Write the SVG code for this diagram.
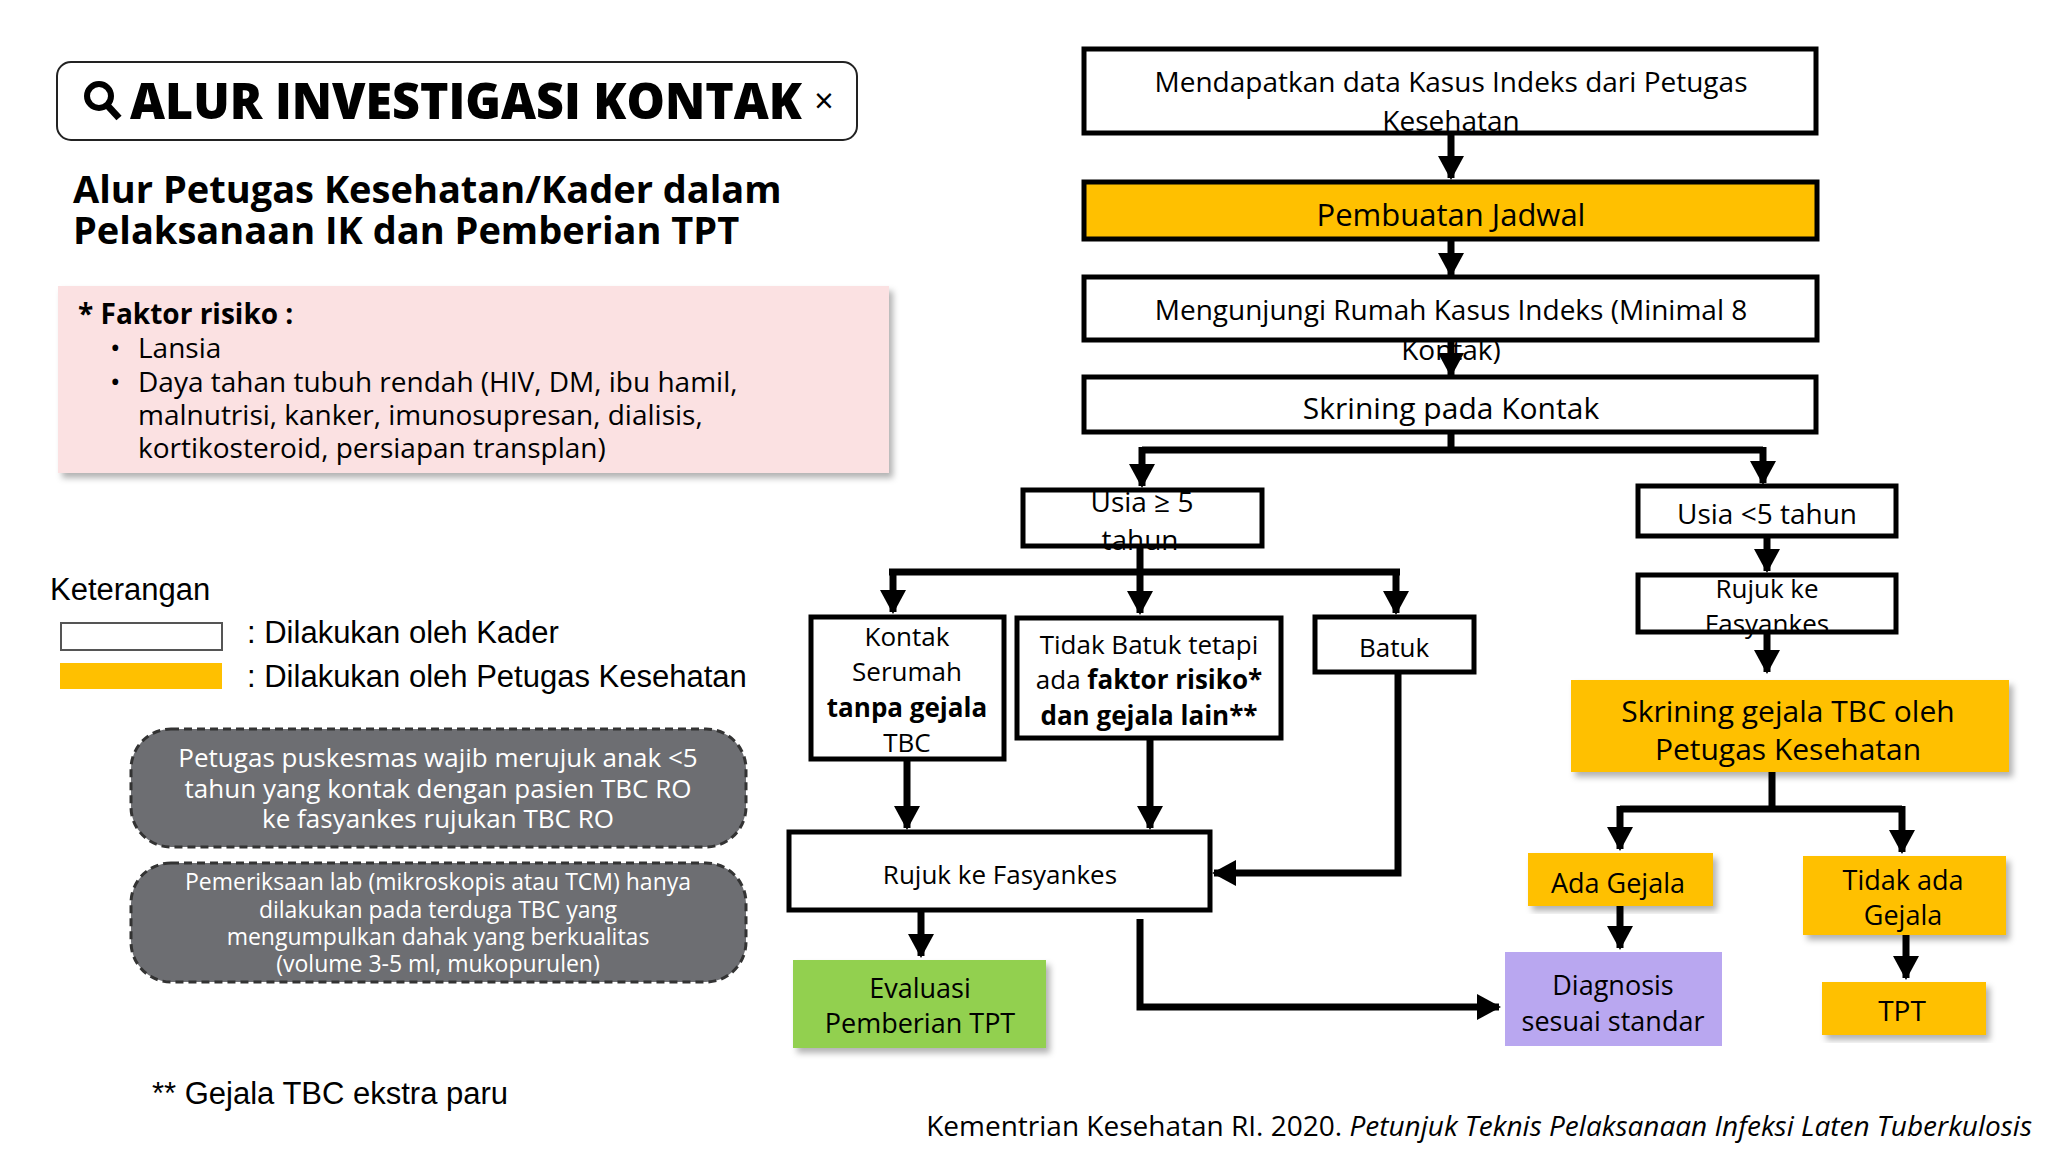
<svg xmlns="http://www.w3.org/2000/svg" width="2048" height="1152" viewBox="0 0 2048 1152">
<defs>
<marker id="ah" markerUnits="userSpaceOnUse" markerWidth="26" markerHeight="26" refX="22" refY="13" orient="auto"><path d="M0,0 L24,13 L0,26 Z" fill="#000"/></marker>
<filter id="sh" x="-5%" y="-5%" width="115%" height="120%"><feDropShadow dx="4" dy="5" stdDeviation="3" flood-color="#000" flood-opacity="0.3"/></filter>
</defs>
<style>
text{font-family:"Open Sans","Noto Sans","Liberation Sans",sans-serif;fill:#000}
.c{text-anchor:middle}
.bx{fill:#fff;stroke:#000;stroke-width:5}
.yl{fill:#ffc000}
.ln{fill:none;stroke:#000;stroke-width:7}
.t{font-size:28px}
.g{fill:#6d6e72;stroke:#333;stroke-width:3;stroke-dasharray:8 5}
.w{fill:#fff}
</style>
<rect width="2048" height="1152" fill="#fff"/>
<g id="header">
<rect x="57" y="62" width="800" height="78" rx="14" fill="#fff" stroke="#222" stroke-width="2"/>
<circle cx="99" cy="96" r="12" fill="none" stroke="#000" stroke-width="6"/>
<line x1="107" y1="105" x2="119" y2="118" stroke="#000" stroke-width="7"/>
<text x="130" y="119" font-size="50" font-weight="900" textLength="672" lengthAdjust="spacingAndGlyphs">ALUR INVESTIGASI KONTAK</text>
<text x="824" y="113" font-size="34" class="c">×</text>
<text x="73" y="203" font-size="38" font-weight="bold">Alur Petugas Kesehatan/Kader dalam</text>
<text x="73" y="244" font-size="38" font-weight="bold">Pelaksanaan IK dan Pemberian TPT</text>
</g>
<g id="faktor">
<rect x="58" y="286" width="831" height="187" fill="#fbe1e2" filter="url(#sh)"/>
<text x="78" y="324" font-size="28" font-weight="bold">* Faktor risiko :</text>
<text x="110" y="358" font-size="28">•</text><text x="138" y="358" font-size="28">Lansia</text>
<text x="110" y="392" font-size="28">•</text><text x="138" y="392" font-size="28">Daya tahan tubuh rendah (HIV, DM, ibu hamil,</text>
<text x="138" y="425" font-size="28">malnutrisi, kanker, imunosupresan, dialisis,</text>
<text x="138" y="458" font-size="28">kortikosteroid, persiapan transplan)</text>
</g>
<g id="legend" font-family="Liberation Sans">
<text x="50" y="600" font-size="31" style="font-family:'Liberation Sans',sans-serif">Keterangan</text>
<rect x="61" y="623" width="161" height="27" fill="#fff" stroke="#555" stroke-width="2"/>
<text x="247" y="643" font-size="31" style="font-family:'Liberation Sans',sans-serif">: Dilakukan oleh Kader</text>
<rect x="60" y="663" width="162" height="26" fill="#ffc000"/>
<text x="247" y="687" font-size="31" style="font-family:'Liberation Sans',sans-serif">: Dilakukan oleh Petugas Kesehatan</text>
</g>
<g id="note1">
<rect x="131" y="729" width="615" height="118" rx="40" class="g"/>
<text x="438" y="767" font-size="26" class="c w">Petugas puskesmas wajib merujuk anak &lt;5</text>
<text x="438" y="798" font-size="26" class="c w">tahun yang kontak dengan pasien TBC RO</text>
<text x="438" y="828" font-size="26" class="c w">ke fasyankes rujukan TBC RO</text>
</g>
<g id="note2">
<rect x="131" y="863" width="615" height="119" rx="40" class="g"/>
<text x="438" y="890" font-size="23" class="c w">Pemeriksaan lab (mikroskopis atau TCM) hanya</text>
<text x="438" y="918" font-size="23" class="c w">dilakukan pada terduga TBC yang</text>
<text x="438" y="945" font-size="23" class="c w">mengumpulkan dahak yang berkualitas</text>
<text x="438" y="972" font-size="23" class="c w">(volume 3-5 ml, mukopurulen)</text>
</g>
<text x="152" y="1104" font-size="31" style="font-family:'Liberation Sans',sans-serif">** Gejala TBC ekstra paru</text>
<text x="2032" y="1136" font-size="28" text-anchor="end">Kementrian Kesehatan RI. 2020. <tspan font-style="italic">Petunjuk Teknis Pelaksanaan Infeksi Laten Tuberkulosis</tspan></text>

<g id="connectors">
<path class="ln" d="M1451,133 V178" marker-end="url(#ah)"/>
<path class="ln" d="M1451,239 V275" marker-end="url(#ah)"/>
<path class="ln" d="M1451,340 V375" marker-end="url(#ah)"/>
<path class="ln" d="M1451,432 V450 M1142,450 H1763"/>
<path class="ln" d="M1142,447 V486" marker-end="url(#ah)"/>
<path class="ln" d="M1763,447 V483" marker-end="url(#ah)"/>
<path class="ln" d="M1140,546 V572 M889,572 H1400"/>
<path class="ln" d="M893,569 V612" marker-end="url(#ah)"/>
<path class="ln" d="M1140,569 V613" marker-end="url(#ah)"/>
<path class="ln" d="M1396,569 V613" marker-end="url(#ah)"/>
<path class="ln" d="M907,759 V828" marker-end="url(#ah)"/>
<path class="ln" d="M1150,738 V828" marker-end="url(#ah)"/>
<path class="ln" d="M1398,672 V873 H1214" marker-end="url(#ah)"/>
<path class="ln" d="M921,910 V956" marker-end="url(#ah)"/>
<path class="ln" d="M1140,919 V1007 H1499" marker-end="url(#ah)"/>
<path class="ln" d="M1767,536 V571" marker-end="url(#ah)"/>
<path class="ln" d="M1767,632 V672" marker-end="url(#ah)"/>
<path class="ln" d="M1772,772 V809 M1620,809 H1902"/>
<path class="ln" d="M1620,806 V849" marker-end="url(#ah)"/>
<path class="ln" d="M1902,806 V852" marker-end="url(#ah)"/>
<path class="ln" d="M1620,906 V948" marker-end="url(#ah)"/>
<path class="ln" d="M1906,935 V978" marker-end="url(#ah)"/>
</g>

<g id="n1"><rect class="bx" x="1084" y="49" width="732" height="84"/>
<text class="c t" x="1451" y="92">Mendapatkan data Kasus Indeks dari Petugas</text><text class="c t" x="1451" y="131">Kesehatan</text></g>
<g id="n2"><rect class="bx yl" x="1084" y="182" width="733" height="57"/><text class="c" font-size="31" x="1451" y="226">Pembuatan Jadwal</text></g>
<g id="n3"><rect class="bx" x="1084" y="277" width="733" height="63"/>
<text class="c t" x="1451" y="320">Mengunjungi Rumah Kasus Indeks  (Minimal 8</text><text class="c t" x="1451" y="360">Kontak)</text></g>
<g id="n4"><rect class="bx" x="1084" y="377" width="732" height="55"/><text class="c" font-size="30" x="1451" y="419">Skrining pada Kontak</text></g>
<g id="n5"><rect class="bx" x="1023" y="490" width="239" height="56"/><text class="c t" x="1142" y="512">Usia ≥ 5</text><text class="c t" x="1140" y="550">tahun</text></g>
<g id="n6"><rect class="bx" x="1638" y="486" width="258" height="50"/><text class="c t" x="1767" y="524">Usia &lt;5 tahun</text></g>
<g id="n7"><rect class="bx" x="1638" y="575" width="258" height="57"/><text class="c" font-size="26" x="1767" y="598">Rujuk ke</text><text class="c" font-size="26" x="1767" y="633">Fasyankes</text></g>
<g id="n8"><rect class="yl" x="1571" y="680" width="438" height="92" filter="url(#sh)"/><text class="c" font-size="30" x="1788" y="722">Skrining gejala TBC oleh</text><text class="c" font-size="30" x="1788" y="760">Petugas Kesehatan</text></g>
<g id="n9"><rect class="bx" x="811" y="617" width="193" height="142"/>
<text class="c" font-size="26" x="907" y="646">Kontak</text><text class="c" font-size="26" x="907" y="681">Serumah</text><text class="c" font-size="26" font-weight="bold" x="907" y="717">tanpa gejala</text><text class="c" font-size="26" x="907" y="752">TBC</text></g>
<g id="n10"><rect class="bx" x="1017" y="618" width="264" height="120"/>
<text class="c" font-size="26" x="1149" y="654">Tidak Batuk tetapi</text><text class="c" font-size="26" x="1149" y="689">ada <tspan font-weight="bold">faktor risiko*</tspan></text><text class="c" font-size="26" font-weight="bold" x="1149" y="725">dan gejala lain**</text></g>
<g id="n11"><rect class="bx" x="1315" y="617" width="159" height="55"/><text class="c" font-size="26" x="1394" y="657">Batuk</text></g>
<g id="n12"><rect class="bx" x="789" y="832" width="421" height="78"/><text class="c" font-size="26" x="1000" y="884">Rujuk ke Fasyankes</text></g>
<g id="n13"><rect x="793" y="960" width="253" height="88" fill="#92d050" filter="url(#sh)"/><text class="c" font-size="27" x="920" y="998">Evaluasi</text><text class="c" font-size="27" x="920" y="1033">Pemberian TPT</text></g>
<g id="n14"><rect class="yl" x="1528" y="853" width="185" height="53" filter="url(#sh)"/><text class="c" font-size="27" x="1618" y="893">Ada Gejala</text></g>
<g id="n15"><rect class="yl" x="1803" y="856" width="203" height="79" filter="url(#sh)"/><text class="c" font-size="27" x="1903" y="890">Tidak ada</text><text class="c" font-size="27" x="1903" y="925">Gejala</text></g>
<g id="n16"><rect x="1505" y="952" width="217" height="94" fill="#b9a7f0"/><text class="c" font-size="27" x="1613" y="995">Diagnosis</text><text class="c" font-size="27" x="1613" y="1031">sesuai standar</text></g>
<g id="n17"><rect class="yl" x="1822" y="982" width="164" height="53" filter="url(#sh)"/><text class="c" font-size="28" x="1902" y="1021">TPT</text></g>
</svg>
